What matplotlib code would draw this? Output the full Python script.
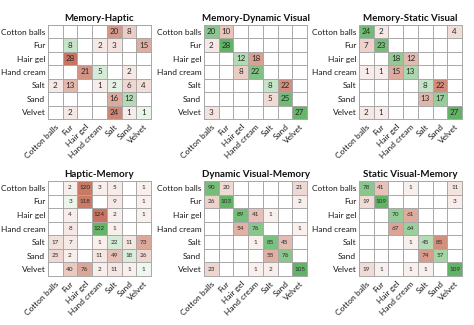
import numpy as np
import matplotlib
matplotlib.use("Agg")
import matplotlib.pyplot as plt
from matplotlib.colors import to_rgb

plt.rcParams['font.family'] = ['Lato', 'DejaVu Sans']

materials = ["Cotton balls", "Fur", "Hair gel", "Hand cream", "Salt", "Sand", "Velvet"]

memory_haptic = [
    [0, 0, 0, 0, 20, 8, 0],
    [0, 8, 0, 2, 3, 0, 15],
    [0, 28, 0, 0, 0, 0, 0],
    [0, 0, 21, 5, 0, 2, 0],
    [2, 13, 0, 1, 2, 6, 4],
    [0, 0, 0, 0, 16, 12, 0],
    [0, 2, 0, 0, 24, 1, 1],
]
memory_dynamic = [
    [20, 10, 0, 0, 0, 0, 0],
    [2, 28, 0, 0, 0, 0, 0],
    [0, 0, 12, 18, 0, 0, 0],
    [0, 0, 8, 22, 0, 0, 0],
    [0, 0, 0, 0, 8, 22, 0],
    [0, 0, 0, 0, 5, 25, 0],
    [3, 0, 0, 0, 0, 0, 27],
]
memory_static = [
    [24, 2, 0, 0, 0, 0, 4],
    [7, 23, 0, 0, 0, 0, 0],
    [0, 0, 18, 12, 0, 0, 0],
    [1, 1, 15, 13, 0, 0, 0],
    [0, 0, 0, 0, 8, 22, 0],
    [0, 0, 0, 0, 13, 17, 0],
    [2, 1, 0, 0, 0, 0, 27],
]
haptic_memory = [
    [0, 2, 120, 3, 5, 0, 1],
    [0, 3, 118, 0, 9, 0, 1],
    [0, 4, 0, 124, 2, 0, 1],
    [0, 8, 0, 122, 1, 0, 0],
    [17, 7, 0, 1, 22, 11, 73],
    [25, 2, 0, 11, 49, 18, 26],
    [0, 40, 76, 2, 11, 1, 1],
]
dynamic_memory = [
    [90, 20, 0, 0, 0, 0, 21],
    [26, 103, 0, 0, 0, 0, 2],
    [0, 0, 89, 41, 1, 0, 0],
    [0, 0, 54, 76, 0, 0, 1],
    [0, 0, 0, 1, 85, 45, 0],
    [0, 0, 0, 0, 55, 76, 0],
    [23, 0, 0, 1, 2, 0, 105],
]
static_memory = [
    [78, 41, 0, 1, 0, 0, 11],
    [19, 109, 0, 0, 0, 0, 3],
    [0, 0, 70, 61, 0, 0, 0],
    [0, 0, 67, 64, 0, 0, 0],
    [0, 0, 0, 1, 45, 85, 0],
    [0, 0, 0, 0, 74, 57, 0],
    [19, 1, 0, 1, 1, 0, 109],
]

titles = ["Memory-Haptic", "Memory-Dynamic Visual", "Memory-Static Visual",
          "Haptic-Memory", "Dynamic Visual-Memory", "Static Visual-Memory"]
matrices = [memory_haptic, memory_dynamic, memory_static,
            haptic_memory, dynamic_memory, static_memory]

RED = np.array(to_rgb("#c97560"))
GREEN = np.array(to_rgb("#62b466"))
WHITE = np.ones(3)

fig = plt.figure(figsize=(4.74, 3.25), dpi=100)

W, H = 474.0, 325.0
lefts = [48, 204, 359]
row_box = [(25, 119), (181, 276)]
cell_w = 103

for k, (title, mat) in enumerate(zip(titles, matrices)):
    m = np.array(mat, dtype=float)
    r, c = divmod(k, 3)
    top, bot = row_box[r]
    ax = fig.add_axes([lefts[c] / W, 1 - bot / H, cell_w / W, (bot - top) / H])
    vmax = m.max()
    n = len(materials)
    img = np.ones((n, n, 3))
    for i in range(n):
        for j in range(n):
            v = m[i, j]
            if v <= 0:
                continue
            frac = 0.1 + 0.9 * (v / vmax)
            base = GREEN if i == j else RED
            img[i, j] = WHITE + (base - WHITE) * frac
            ax.text(j, i, f"{int(v)}", ha="center", va="center",
                    fontsize=5.8 if vmax < 50 else 4.6, color="#2a2a2a")
    ax.imshow(img, aspect="auto", interpolation="nearest")
    for p in np.arange(-0.5, n, 1.0):
        ax.axhline(p, color="#a8a8a8", lw=0.7)
        ax.axvline(p, color="#a8a8a8", lw=0.7)
    for s in ax.spines.values():
        s.set_color("#a8a8a8")
        s.set_linewidth(0.7)
    ax.set_xlim(-0.5, n - 0.5)
    ax.set_ylim(n - 0.5, -0.5)
    ax.set_xticks(range(n))
    ax.set_yticks(range(n))
    ax.set_yticklabels(materials, fontsize=6.0, color="#1a1a1a")
    ax.set_xticklabels(materials, fontsize=6.0, color="#1a1a1a",
                       rotation=45, ha="right", rotation_mode="anchor")
    ax.tick_params(axis="y", length=0, pad=2)
    ax.tick_params(axis="x", length=0, pad=3)
    ax.set_title(title, fontsize=7, fontweight="bold", pad=3, color="#111111")

fig.savefig("out.png", dpi=100)
